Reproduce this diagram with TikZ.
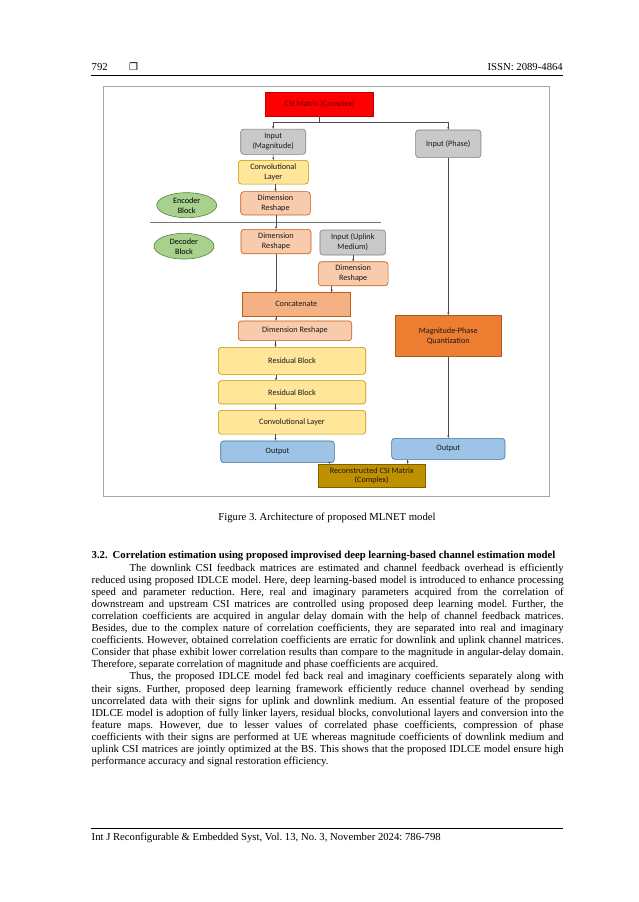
\documentclass[tikz,border=0pt]{standalone}
\usepackage{fontspec}
\setmainfont{Liberation Serif}
\newfontfamily\boxfont{Carlito}
\newfontfamily\symfont{DejaVu Sans}
\usetikzlibrary{arrows.meta, shapes.geometric, positioning}
\frenchspacing

\definecolor{csifill}{HTML}{FF0000}
\definecolor{csiline}{HTML}{C00000}
\definecolor{csitext}{HTML}{6E0000}
\definecolor{grayfill}{HTML}{C9C9C9}
\definecolor{grayline}{HTML}{7F7F7F}
\definecolor{yelfill}{HTML}{FFE699}
\definecolor{yelline}{HTML}{BF9000}
\definecolor{peachfill}{HTML}{F8CBAD}
\definecolor{peachline}{HTML}{C55A11}
\definecolor{concfill}{HTML}{F4B183}
\definecolor{quantfill}{HTML}{ED7D31}
\definecolor{quantline}{HTML}{AE5A21}
\definecolor{bluefill}{HTML}{9DC3E6}
\definecolor{blueline}{HTML}{41719C}
\definecolor{goldfill}{HTML}{BF9000}
\definecolor{goldline}{HTML}{7F6000}
\definecolor{greenfill}{HTML}{A9D18E}
\definecolor{greenline}{HTML}{548235}

% one justified text line of the page body
\newcommand{\jline}[1]{\hbox to 472pt{#1}}

\begin{document}
\begin{tikzpicture}[x=1pt, y=-1pt,
    size/.style 2 args={minimum width=#1pt, minimum height=#2pt},
    box/.style={draw, line width=0.6pt, inner sep=0pt, align=center,
        font=\boxfont\fontsize{8.2}{9.9}\selectfont, text=black!90},
    rbox/.style={box, rounded corners=3pt},
    inp/.style={rbox, fill=grayfill, draw=grayline},
    conv/.style={rbox, fill=yelfill, draw=yelline},
    resh/.style={rbox, fill=peachfill, draw=peachline},
    outp/.style={rbox, fill=bluefill, draw=blueline},
    blk/.style={ellipse, draw=greenline, fill=greenfill, line width=0.6pt,
        inner sep=0pt, align=center, font=\boxfont\fontsize{8.2}{10}\selectfont},
    link/.style={line width=0.5pt, draw=black!70},
    arr/.style={link, -{Stealth[length=2.6pt, width=2.2pt]}},
    page/.style={inner sep=0pt, anchor=base west, font=\fontsize{10.7}{12.1}\selectfont}]

    \useasboundingbox[fill=white] (0,0) rectangle (638,902);

    % page header
    \node[page] (pgno) at (91.5,70) {792};
    \node[page, font=\symfont\fontsize{10}{12}\selectfont] (mark) at (129,70) {❐};
    \node[page, anchor=base east] (issn) at (563,70) {ISSN: 2089-4864};
    \draw[line width=0.7pt] (91,75.5) -- (563,75.5);

    % figure frame
    \draw[line width=0.9pt, draw=black!35] (103.3,86) rectangle (549,496.7);

    % encoder
    \node[box, fill=csifill, draw=csiline, text=csitext, size={107.6}{23.7}] (csi) at (319.5,104.2) {CSI Matrix (Complex)};
    \node[inp, size={65}{25.3}] (inmag) at (273.2,141.7) {Input\\(Magnitude)};
    \node[inp, size={65.3}{27.7}] (inphase) at (448.3,143.8) {Input (Phase)};
    \node[conv, size={70}{23.7}] (conv1) at (273.3,172.2) {Convolutional\\Layer};
    \node[resh, size={69.6}{23.3}] (encresh) at (275.5,203.3) {Dimension\\Reshape};
    \node[blk, size={60}{25}] (enc) at (186.7,205.2) {Encoder\\Block};

    \draw[link, draw=black!55] (150,222) -- (381,222);

    % decoder
    \node[resh, size={70}{24.4}] (decresh) at (276,241.5) {Dimension\\Reshape};
    \node[inp, size={65.7}{25}] (inup) at (352.8,242.5) {Input (Uplink\\Medium)};
    \node[resh, size={69.7}{24}] (upresh) at (353.2,273.7) {Dimension\\Reshape};
    \node[blk, size={60}{25.7}] (dec) at (184,246.2) {Decoder\\Block};
    \node[box, fill=concfill, draw=peachline, size={107.3}{23.3}] (concat) at (296.3,304.3) {Concatenate};
    \node[resh, size={113.4}{19.7}] (dimwide) at (295,330.8) {Dimension Reshape};
    \node[box, fill=quantfill, draw=quantline, size={106.7}{41.4}] (quant) at (448.3,336) {Magnitude-Phase\\Quantization};
    \node[conv, size={147.4}{27}] (res1) at (292,360.8) {Residual Block};
    \node[conv, size={147.4}{23.3}] (res2) at (292,392.3) {Residual Block};
    \node[conv, size={147.4}{23.7}] (conv2) at (292,422.2) {Convolutional Layer};
    \node[outp, size={113.6}{21.7}] (outl) at (277.5,451.8) {Output};
    \node[outp, size={113.3}{21}] (outr) at (448.3,448.8) {Output};
    \node[box, fill=goldfill, draw=goldline, size={106.7}{23}] (recon) at (371.7,475.8) {Reconstructed CSI Matrix\\(Complex)};

    % connectors
    \coordinate (split) at (319.5,122.7);
    \draw[link] (csi) -- (split);
    \draw[arr] (split) -| (inmag);
    \draw[arr] (split) -| (inphase);
    \draw[arr] (inmag) -- (conv1);
    \draw[arr] (conv1.south -| encresh) -- (encresh);
    \draw[arr] (encresh.south -| decresh) -- (decresh);
    \draw[arr] (decresh) -- (decresh |- concat.north);
    \draw[arr] (inup.south -| upresh) -- (upresh);
    \draw[arr] ([xshift=-21.5pt]upresh.south) -- ([xshift=-21.5pt]upresh.south |- concat.north);
    \draw[arr] (concat.south -| decresh) -- (dimwide.north -| decresh);
    \draw[arr] (dimwide.south -| encresh) -- (res1.north -| encresh);
    \draw[arr] (res1.south -| decresh) -- (res2.north -| decresh);
    \draw[arr] (res2.south -| encresh) -- (conv2.north -| encresh);
    \draw[arr] (conv2.south -| encresh) -- (outl.north -| encresh);
    \draw[arr] (inphase) -- (quant);
    \draw[arr] (quant) -- (outr);
    \draw[arr] ([xshift=51.8pt]outl.south) -- ([xshift=51.8pt]outl.south |- recon.north);
    \draw[arr] ([xshift=-40.6pt]outr.south) -- ([xshift=-40.6pt]outr.south |- recon.north);

    % caption and body text
    \node[page, anchor=base] (cap) at (327,520) {Figure 3. Architecture of proposed MLNET model};
    \node[page, font=\bfseries\fontsize{10.7}{12.1}\selectfont] (head) at (91.5,558)
        {3.2.\hspace{5pt}Correlation estimation using proposed improvised deep learning-based channel estimation model};
    \node[page] (body) at (91.5,571) {\parbox[t]{472pt}{\fontsize{10.7}{12.1}\selectfont
        \jline{\hspace*{38pt}The downlink CSI feedback matrices are estimated and channel feedback overhead is efficiently}
        \jline{reduced using proposed IDLCE model. Here, deep learning-based model is introduced to enhance processing}
        \jline{speed and parameter reduction. Here, real and imaginary parameters acquired from the correlation of}
        \jline{downstream and upstream CSI matrices are controlled using proposed deep learning model. Further, the}
        \jline{correlation coefficients are acquired in angular delay domain with the help of channel feedback matrices.}
        \jline{Besides, due to the complex nature of correlation coefficients, they are separated into real and imaginary}
        \jline{coefficients. However, obtained correlation coefficients are erratic for downlink and uplink channel matrices.}
        \jline{Consider that phase exhibit lower correlation results than compare to the magnitude in angular-delay domain.}
        \hbox{Therefore, separate correlation of magnitude and phase coefficients are acquired.}
        \jline{\hspace*{38pt}Thus, the proposed IDLCE model fed back real and imaginary coefficients separately along with}
        \jline{their signs. Further, proposed deep learning framework efficiently reduce channel overhead by sending}
        \jline{uncorrelated data with their signs for uplink and downlink medium. An essential feature of the proposed}
        \jline{IDLCE model is adoption of fully linker layers, residual blocks, convolutional layers and conversion into the}
        \jline{feature maps. However, due to lesser values of correlated phase coefficients, compression of phase}
        \jline{coefficients with their signs are performed at UE whereas magnitude coefficients of downlink medium and}
        \jline{uplink CSI matrices are jointly optimized at the BS. This shows that the proposed IDLCE model ensure high}
        \hbox{performance accuracy and signal restoration efficiency.}}};

    % page footer
    \draw[line width=0.7pt] (91,828) -- (563,828);
    \node[page] (foot) at (91.5,840) {Int J Reconfigurable \& Embedded Syst, Vol. 13, No. 3, November 2024: 786-798};
\end{tikzpicture}
\end{document}
